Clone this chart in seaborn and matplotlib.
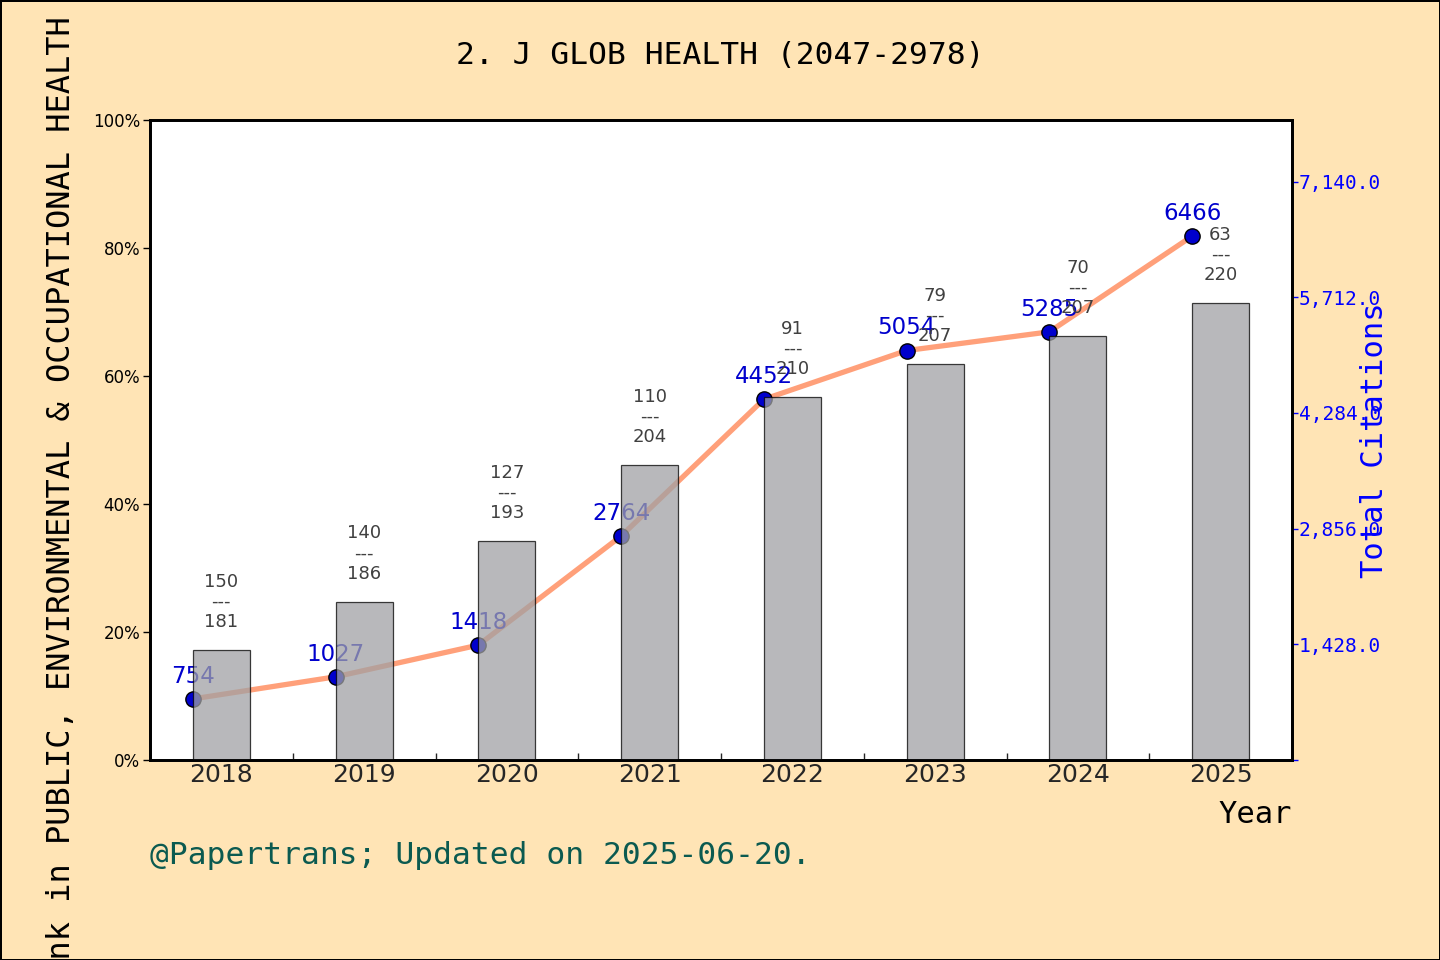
import matplotlib
matplotlib.use("Agg")
import matplotlib.pyplot as plt
import seaborn as sns
import numpy as np
import pandas as pd
from matplotlib.ticker import FixedLocator, FuncFormatter

# ---- data ----
years = ["2018", "2019", "2020", "2021", "2022", "2023", "2024", "2025"]
ranks = [150, 140, 127, 110, 91, 79, 70, 63]
totals = [181, 186, 193, 204, 210, 207, 207, 220]
citations = [754, 1027, 1418, 2764, 4452, 5054, 5285, 6466]
right_ticks = [0, 1428, 2856, 4284, 5712, 7140]
left_ticks = [0, 0.2, 0.4, 0.6, 0.8, 1.0]

title = "2. J GLOB HEALTH (2047-2978)"
left_label = "Rank in PUBLIC, ENVIRONMENTAL & OCCUPATIONAL HEALTH (SCIE)"
right_label = "Total Citations"
footer = "@Papertrans; Updated on 2025-06-20."

pct = [1 - r / t for r, t in zip(ranks, totals)]
df = pd.DataFrame({"year": years, "pct": pct, "cit": citations})
df["pos"] = np.arange(len(years)) - 0.2

BG = "#FFE4B5"
MONO = "DejaVu Sans Mono"

sns.set_theme(style="white")
plt.rcParams["font.family"] = ["DejaVu Sans"]

fig = plt.figure(figsize=(14.4, 9.6), dpi=100, facecolor=BG)
fig.patch.set_edgecolor("black")
fig.patch.set_linewidth(2)

ax = fig.add_axes([150 / 1440, 1 - 760 / 960, 1142 / 1440, 640 / 960])
ax2 = ax.twinx()

# line (drawn beneath bars)
sns.lineplot(data=df, x="pos", y="cit", ax=ax2, color="#FFA07A", linewidth=3.8,
             marker="o", markersize=11, markerfacecolor="#0000CD",
             markeredgecolor="black", markeredgewidth=1.0, zorder=2)
for p, c in zip(df["pos"], df["cit"]):
    ax2.annotate(str(c), (p, c), xytext=(0, 8), textcoords="offset points",
                 ha="center", va="bottom", fontsize=16.5, color="#0000CD", zorder=3)

# bars on top
sns.barplot(data=df, x="year", y="pct", ax=ax, color="#a0a1a4", alpha=0.75,
            width=0.4, edgecolor="black", linewidth=0.9, saturation=1)
for i, (r, t, p) in enumerate(zip(ranks, totals, pct)):
    ax.text(i, p + 0.03, f"{r}\n---\n{t}", ha="center", va="bottom",
            fontsize=13, color="#404040", linespacing=1.15)

ax.set_zorder(ax2.get_zorder() + 1)
ax.patch.set_visible(False)
ax2.patch.set_visible(True)
ax2.patch.set_facecolor("white")

ax.set_xlim(-0.5, len(years) - 0.5)
ax.set_ylim(0, 1)
ax2.set_ylim(0, 7900)

# left axis
ax.yaxis.set_major_locator(FixedLocator(left_ticks))
ax.yaxis.set_major_formatter(FuncFormatter(lambda v, _: f"{v*100:.0f}%"))
ax.tick_params(axis="y", left=True, direction="out", length=5, width=1,
               labelsize=12, pad=2, colors="black")
ax.tick_params(axis="x", bottom=True, length=0, labelsize=18, pad=2)
ax.set_xticks(np.arange(len(years)))
ax.set_xticklabels(years)
ax.xaxis.set_minor_locator(FixedLocator(np.arange(len(years) - 1) + 0.5))
ax.tick_params(axis="x", which="minor", bottom=True, direction="in", length=5, width=1)

# right axis
ax2.yaxis.set_major_locator(FixedLocator(right_ticks))
ax2.yaxis.set_major_formatter(FuncFormatter(lambda v, _: "" if v == 0 else f"{v:,.1f}"))
ax2.tick_params(axis="y", right=True, direction="out", length=4, width=1,
                labelsize=14, pad=1, colors="blue")
for lab in ax2.get_yticklabels():
    lab.set_family(MONO)
ax2.set_xlabel("")

for a in (ax, ax2):
    for s in a.spines.values():
        s.set_linewidth(2)
        s.set_color("black")

ax.set_ylabel(left_label, fontsize=23, family=MONO, color="black")
ax.yaxis.set_label_coords(-0.064, 0.5)
ax2.set_ylabel(right_label, fontsize=22, family=MONO, color="blue")
ax2.yaxis.set_label_coords(1.0595, 0.5)
ax.set_xlabel("Year", fontsize=22, family=MONO, loc="right", color="black")
ax.xaxis.set_label_coords(1.0, -0.063)

fig.text(0.5, 1 - 56 / 960, title, ha="center", va="center", fontsize=22.5,
         family=MONO, color="black")
fig.text(150 / 1440, 1 - 855 / 960, footer, ha="left", va="center", fontsize=22.5,
         family=MONO, color="#0b5a50")

fig.savefig("out.png", dpi=100, facecolor=fig.get_facecolor(),
            edgecolor=fig.get_edgecolor())
